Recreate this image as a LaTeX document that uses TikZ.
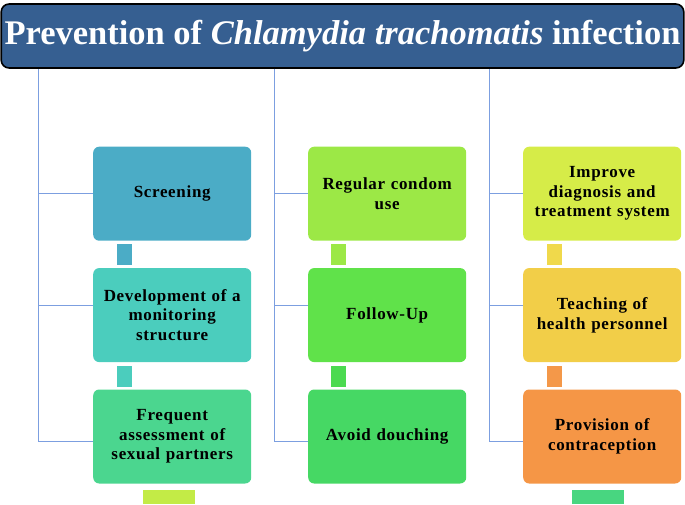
\documentclass[tikz,border=0pt]{standalone}
\usepackage{fontspec}
\setmainfont{Liberation Serif}
\newfontfamily\boxfont[LetterSpace=4]{Liberation Serif}
\usepackage{xcolor}
\usetikzlibrary{shapes,arrows,positioning,calc}

\definecolor{titleblue}{HTML}{365F91}
\definecolor{linkblue}{HTML}{7C9FE0}
\definecolor{cScreen}{HTML}{4BACC6}
\definecolor{cMonitor}{HTML}{4BCDBD}
\definecolor{cPartner}{HTML}{4BD68F}
\definecolor{cCondom}{HTML}{9CE846}
\definecolor{cFollow}{HTML}{60E24A}
\definecolor{cFollowJ}{HTML}{4BDA50}
\definecolor{cDouche}{HTML}{46D864}
\definecolor{cImprove}{HTML}{D6EC48}
\definecolor{cImproveJ}{HTML}{F0D94B}
\definecolor{cTeach}{HTML}{F2CE48}
\definecolor{cTeachJ}{HTML}{F49849}
\definecolor{cContra}{HTML}{F59646}
\definecolor{cBarA}{HTML}{C3EB46}
\definecolor{cBarB}{HTML}{48D680}

\begin{document}
\begin{tikzpicture}[
    x=1pt, y=1pt,
    node distance=27pt,
    header/.style={rectangle, rounded corners=8pt, draw=black, line width=1.6pt, fill=titleblue, minimum width=680pt, minimum height=64pt, text=white, font=\fontsize{34.5}{38}\selectfont\bfseries},
    measure/.style={rectangle, rounded corners=6pt, minimum width=158pt, minimum height=94pt, inner xsep=2pt, text width=150pt, align=center, font=\boxfont\fontsize{17}{19.5}\selectfont\bfseries},
    joint/.style={rectangle, minimum width=15pt, minimum height=21pt, inner sep=0pt, anchor=north west},
    bar/.style={rectangle, minimum width=52pt, minimum height=14pt, inner sep=0pt},
    link/.style={draw=linkblue, line width=1pt}
]
    \useasboundingbox (0,0) rectangle (685,-505);

    \node[header] (title) at (342.5,-36) {Prevention of \textit{Chlamydia trachomatis} infection};

    % left column
    \node[measure, fill=cScreen] (screen) at (172.2,-193.7) {Screening};
    \node[measure, fill=cMonitor, below=of screen] (monitor) {Development of a\\ monitoring\\ structure};
    \node[measure, fill=cPartner, below=of monitor] (partner) {Frequent\\ assessment of\\ sexual partners};
    \node[joint, fill=cScreen, below right=3.3pt and 24pt of screen.south west] (j1) {};
    \node[joint, fill=cMonitor, below right=3.3pt and 24pt of monitor.south west] (j2) {};
    \node[bar, fill=cBarA, below=6.3pt of partner, anchor=north, xshift=-3pt] (barA) {};

    % middle column
    \node[measure, fill=cCondom] (condom) at (387.2,-193.7) {Regular condom\\ use};
    \node[measure, fill=cFollow, below=of condom] (follow) {Follow-Up};
    \node[measure, fill=cDouche, below=of follow] (douche) {Avoid douching};
    \node[joint, fill=cCondom, below right=3.3pt and 23pt of condom.south west] (j3) {};
    \node[joint, fill=cFollowJ, below right=3.3pt and 23pt of follow.south west] (j4) {};

    % right column
    \node[measure, fill=cImprove] (improve) at (602.2,-193.7) {Improve\\ diagnosis and\\ treatment system};
    \node[measure, fill=cTeach, below=of improve] (teach) {Teaching of\\ health personnel};
    \node[measure, fill=cContra, below=of teach] (contra) {Provision of\\ contraception};
    \node[joint, fill=cImproveJ, below right=3.3pt and 24pt of improve.south west] (j5) {};
    \node[joint, fill=cTeachJ, below right=3.3pt and 24pt of teach.south west] (j6) {};
    \node[bar, fill=cBarB, below=6.3pt of contra, anchor=north, xshift=-4pt] (barB) {};

    % tree lines
    \coordinate (t1) at ($(title.south west)+(38,0)$);
    \coordinate (t2) at ($(title.south west)+(274,0)$);
    \coordinate (t3) at ($(title.south west)+(489,0)$);
    \draw[link] (t1) |- ([yshift=-4.6pt]partner.west);
    \draw[link] (t1 |- screen.west) -- (screen.west);
    \draw[link] (t1 |- monitor.west) ++(0,9.7) -- ([yshift=9.7pt]monitor.west);
    \draw[link] (t2) |- ([yshift=-4.6pt]douche.west);
    \draw[link] (t2 |- condom.west) -- (condom.west);
    \draw[link] (t2 |- follow.west) ++(0,9.7) -- ([yshift=9.7pt]follow.west);
    \draw[link] (t3) |- ([yshift=-4.6pt]contra.west);
    \draw[link] (t3 |- improve.west) -- (improve.west);
    \draw[link] (t3 |- teach.west) ++(0,9.7) -- ([yshift=9.7pt]teach.west);
\end{tikzpicture}
\end{document}
